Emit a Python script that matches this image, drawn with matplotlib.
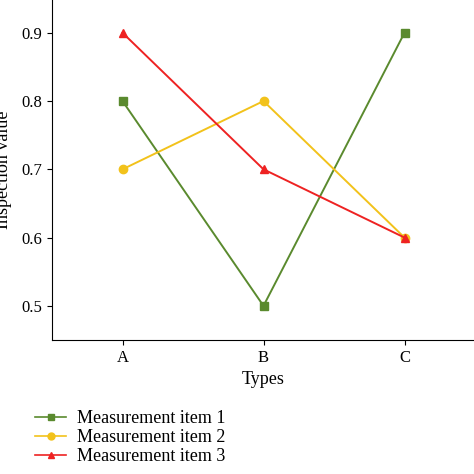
import matplotlib
matplotlib.use("Agg")
import matplotlib.pyplot as plt
from matplotlib.lines import Line2D

types = ['A', 'B', 'C']
item1 = [0.8, 0.5, 0.9]
item2 = [0.7, 0.8, 0.6]
item3 = [0.9, 0.7, 0.6]
names = ['Measurement item 1', 'Measurement item 2', 'Measurement item 3']

plt.rcParams['font.family'] = ['Liberation Serif', 'DejaVu Serif']
fig = plt.figure(figsize=(4.74, 4.74), dpi=100)
ax = fig.add_axes([52 / 474, 1 - 340 / 474, 423 / 474, 340 / 474])

x = [1, 2, 3]
styles = [('#5a8a2e', 's', item1), ('#f2c21b', 'o', item2), ('#ee2222', '^', item3)]
handles = []
for (c, m, v), n in zip(styles, names):
    ax.plot(x, v, color=c, marker=m, markersize=6, lw=1.4)
    handles.append(Line2D([0], [0], color=c, marker=m, markersize=5, lw=1.2, label=n))

ax.set_xlim(0.5, 3.5)
ax.set_ylim(0.45, 0.948)
ax.set_xticks(x)
ax.set_xticklabels(types)
ax.set_yticks([0.5, 0.6, 0.7, 0.8, 0.9])
ax.tick_params(labelsize=12, direction='out')
ax.spines['top'].set_visible(False)
ax.spines['right'].set_visible(False)
ax.set_xlabel('Types', fontsize=13)
ax.set_ylabel('Inspection value', fontsize=13, labelpad=7)

fig.legend(handles=handles, loc='lower left', bbox_to_anchor=(0.04, -0.015),
           frameon=False, fontsize=13, handlelength=1.7, handletextpad=0.6,
           labelspacing=0.1)
fig.savefig('out.png', dpi=100)
